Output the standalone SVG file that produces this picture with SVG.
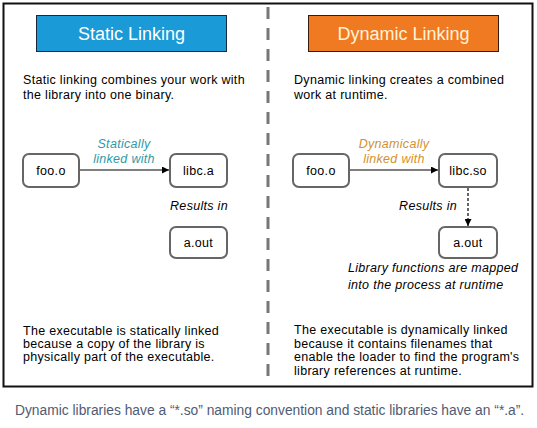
<svg xmlns="http://www.w3.org/2000/svg" width="537" height="428" viewBox="0 0 537 428">
<style>
text{font-family:"Liberation Sans",Arial,sans-serif;}
.body{font-size:12.5px;fill:#000;letter-spacing:0.3px;}
.title{font-size:18px;text-anchor:middle;}
.node rect{fill:#fff;stroke:#666;stroke-width:2;}
.node text{font-size:12.5px;text-anchor:middle;fill:#000;letter-spacing:0.3px;}
.it{font-size:12.5px;font-style:italic;letter-spacing:0.3px;}
.edge{stroke:#000;stroke-width:1.2;fill:none;}
</style>
<defs>
<marker id="ah" viewBox="0 0 10 10" refX="10" refY="5" markerWidth="7" markerHeight="7" orient="auto" markerUnits="userSpaceOnUse"><path d="M0,0 L10,5 L0,10 z" fill="#000"/></marker>
</defs>
<rect x="0" y="0" width="537" height="428" fill="#fff"/>
<rect x="3.5" y="3.5" width="529" height="383" fill="#fff" stroke="#111" stroke-width="2"/>
<line x1="268" y1="7" x2="268" y2="384" stroke="#777" stroke-width="3" stroke-dasharray="12 9"/>

<g id="static-title">
<rect x="36.5" y="15.5" width="190" height="36" fill="#1a9ad6" stroke="#1a2a3a" stroke-width="1"/>
<text class="title" x="131.5" y="40" fill="#fff">Static Linking</text>
</g>
<g id="dynamic-title">
<rect x="308.5" y="15.5" width="190" height="36" fill="#f07a22" stroke="#3a1a0a" stroke-width="1"/>
<text class="title" x="403.5" y="40" fill="#fff3d6">Dynamic Linking</text>
</g>

<text class="body" x="23" y="84">Static linking combines your work with</text>
<text class="body" x="23" y="99">the library into one binary.</text>
<text class="body" x="294" y="84">Dynamic linking creates a combined</text>
<text class="body" x="294" y="99">work at runtime.</text>

<g id="connectors">
<line class="edge" x1="80" y1="170" x2="169" y2="170" marker-end="url(#ah)"/>
<line class="edge" x1="350" y1="170" x2="438" y2="170" marker-end="url(#ah)"/>
<line class="edge" x1="468" y1="188" x2="468" y2="226" stroke-dasharray="3 2" marker-end="url(#ah)"/>
<text class="it" x="124" y="148" text-anchor="middle" fill="#2e9aa8">Statically</text>
<text class="it" x="124" y="163" text-anchor="middle" fill="#2e9aa8">linked with</text>
<text class="it" x="394" y="148" text-anchor="middle" fill="#d4912f">Dynamically</text>
<text class="it" x="394" y="163" text-anchor="middle" fill="#d4912f">linked with</text>
<text class="it" x="199" y="210" text-anchor="middle" fill="#000">Results in</text>
<text class="it" x="457" y="210" text-anchor="end" fill="#000">Results in</text>
</g>

<g id="s-foo" class="node"><rect x="23" y="154" width="56" height="33" rx="6"/><text x="51" y="175">foo.o</text></g>
<g id="s-libc" class="node"><rect x="170" y="154" width="57" height="33" rx="6"/><text x="198.5" y="175">libc.a</text></g>
<g id="s-aout" class="node"><rect x="170" y="227" width="57" height="31" rx="6"/><text x="198.5" y="247">a.out</text></g>
<g id="d-foo" class="node"><rect x="293" y="154" width="56" height="33" rx="6"/><text x="321" y="175">foo.o</text></g>
<g id="d-libc" class="node"><rect x="439" y="154" width="58" height="33" rx="6"/><text x="468" y="175">libc.so</text></g>
<g id="d-aout" class="node"><rect x="439" y="227" width="58" height="31" rx="6"/><text x="468" y="247">a.out</text></g>

<text class="it" x="348" y="272" fill="#000">Library functions are mapped</text>
<text class="it" x="348" y="289" fill="#000">into the process at runtime</text>

<text class="body" x="23" y="335">The executable is statically linked</text>
<text class="body" x="23" y="348">because a copy of the library is</text>
<text class="body" x="23" y="361">physically part of the executable.</text>
<text class="body" x="294" y="334">The executable is dynamically linked</text>
<text class="body" x="294" y="347.5">because it contains  filenames that</text>
<text class="body" x="294" y="361">enable the loader to find the program's</text>
<text class="body" x="294" y="374.5">library references at runtime.</text>

<text x="15" y="415" font-size="13.8" fill="#4f5b73">Dynamic libraries have a “*.so” naming convention and static libraries have an “*.a”.</text>
</svg>
